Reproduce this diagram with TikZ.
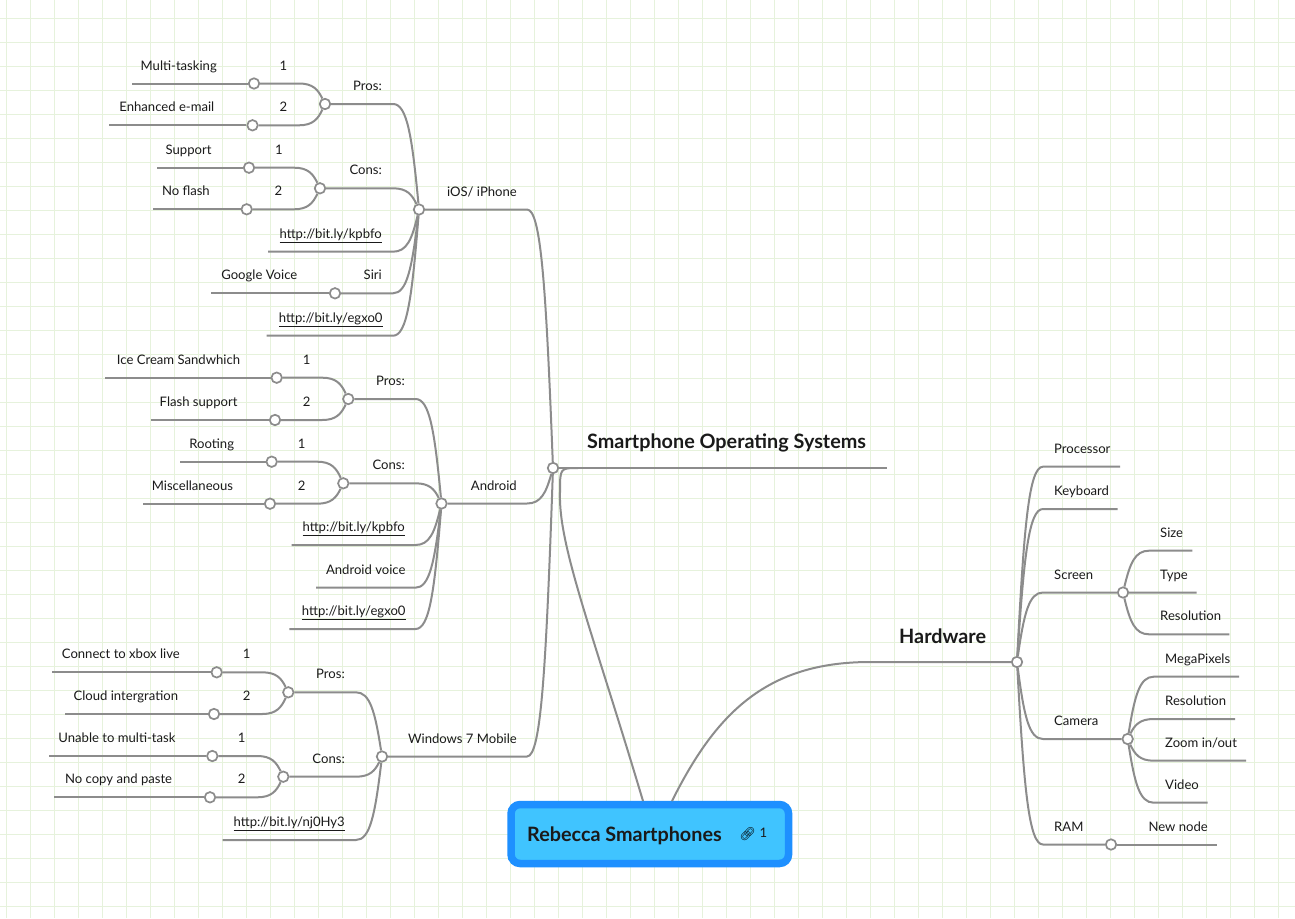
\documentclass[tikz,border=0pt]{standalone}
\usepackage{fontspec}
\setmainfont{Lato}
\newfontfamily\emojifont{Noto Emoji}
\usepackage{tikz}
\usetikzlibrary{calc,positioning}
\definecolor{MapGray}{HTML}{8C8C8C}
\definecolor{MapGrid}{HTML}{E6F2DC}
\definecolor{MapBlue}{HTML}{1E90FF}
\definecolor{MapSky}{HTML}{40C4FF}
\definecolor{MapInk}{HTML}{1A1A1A}
\newcommand\branchL[2]{\draw[link] (#1) .. controls ($(#1)!.7!(#1|-#2)+(-7,0)$) and ($(#1|-#2)+(-12,0)$) .. ($(#1|-#2)+(-26,0)$) -- (#2);}
\newcommand\branchR[2]{\draw[link] (#1) .. controls ($(#1)!.7!(#1|-#2)+(7,0)$) and ($(#1|-#2)+(12,0)$) .. ($(#1|-#2)+(26,0)$) -- (#2);}
\begin{document}
\begin{tikzpicture}[x=1pt,y=-1pt,
  link/.style={draw=MapGray,line width=2pt},
  hub/.style={circle,draw=MapGray,fill=white,line width=1.7pt,minimum size=10.5pt,inner sep=0pt},
  txt/.style={inner sep=0pt,text=MapInk,font=\fontsize{13.1}{15}\selectfont},
  lbl/.style={txt,anchor=base east},
  rlbl/.style={txt,anchor=base west},
  title/.style={inner sep=0pt,text=MapInk,font=\fontsize{19.8}{23}\selectfont\bfseries,anchor=base west},
  gridline/.style={draw=MapGrid,line width=1pt}
]
\useasboundingbox (0,0) rectangle (1295,918);
\fill[white] (0,0) rectangle (1295,918);
\foreach \gx in {6,30,...,1295} \draw[gridline] (\gx,0) -- (\gx,918);
\foreach \gy in {18,42,...,918} \draw[gridline] (0,\gy) -- (1295,\gy);

\node[draw=MapBlue,fill=MapSky,line width=7.5pt,rounded corners=9pt,minimum width=277.5pt,minimum height=59pt,inner sep=0pt] (central) at (649.8,834) {};
\node[title] (ctitle) at (527,841) {Rebecca Smartphones};
\node[inner sep=0pt,font=\emojifont\fontsize{13}{15}\selectfont] (clink) at (747.5,834) {\symbol{"1F517}};
\node[rlbl] (ccount) at (759.5,837.5) {1};
\coordinate (c1) at (643,801);
\coordinate (c2) at (672,801);

\node[hub] (os) at (553,468) {};
\node[title] (ostitle) at (587,448) {Smartphone Operating Systems};
\coordinate (osend) at (887,468);
\coordinate (osjoin) at (578,468);
\draw[link] (os) -- (osend);
\draw[link] (c1) .. controls (592,630) and (558,545) .. (560,492) .. controls (560,468) .. (osjoin);

\node[hub] (hw) at (1017,662) {};
\node[title] (hwtitle) at (899,643) {Hardware};
\coordinate (hwjoin) at (870,662);
\draw[link] (c2) .. controls (715,715) and (765,662) .. (hwjoin) -- (hw);

\node[hub] (ios) at (419,209.5) {};
\node[lbl] (tios) at (517,196) {iOS/ iPhone};
\branchL{os}{ios}
\node[hub] (iosp) at (325,104) {};
\node[lbl] (tiosp) at (382,90.5) {Pros:};
\branchL{ios}{iosp}
\node[hub] (iosp1) at (254,83.5) {};
\node[lbl] (tiosp1) at (287.5,70) {1};
\branchL{iosp}{iosp1}
\coordinate (iosp1e) at (132,83.5);
\node[lbl] (tiosp1e) at (217,70) {Multi-tasking};
\draw[link] (iosp1) -- (iosp1e);
\node[hub] (iosp2) at (252.5,125.3) {};
\node[lbl] (tiosp2) at (287.5,111.8) {2};
\branchL{iosp}{iosp2}
\coordinate (iosp2e) at (109,125.3);
\node[lbl] (tiosp2e) at (214.5,111.8) {Enhanced e-mail};
\draw[link] (iosp2) -- (iosp2e);
\node[hub] (iosc) at (320,188.3) {};
\node[lbl] (tiosc) at (382,174.8) {Cons:};
\branchL{ios}{iosc}
\node[hub] (iosc1) at (249,167.7) {};
\node[lbl] (tiosc1) at (283,154.2) {1};
\branchL{iosc}{iosc1}
\coordinate (iosc1e) at (156.7,167.7);
\node[lbl] (tiosc1e) at (211.7,154.2) {Support};
\draw[link] (iosc1) -- (iosc1e);
\node[hub] (iosc2) at (246.7,209.3) {};
\node[lbl] (tiosc2) at (282.5,195.8) {2};
\branchL{iosc}{iosc2}
\coordinate (iosc2e) at (153.3,209.3);
\node[lbl] (tiosc2e) at (210,195.8) {No flash};
\draw[link] (iosc2) -- (iosc2e);
\coordinate (iosl1) at (268,251.7);
\node[lbl] (tiosl1) at (382,238.2) {\underline{http://bit.ly/kpbfo}};
\branchL{ios}{iosl1}
\node[hub] (siri) at (335,293.3) {};
\node[lbl] (tsiri) at (382,279.8) {Siri};
\branchL{ios}{siri}
\coordinate (sirie) at (210.7,293.3);
\node[lbl] (tsirie) at (297.5,279.8) {Google Voice};
\draw[link] (siri) -- (sirie);
\coordinate (iosl2) at (266.7,335.7);
\node[lbl] (tiosl2) at (382.7,322.2) {\underline{http://bit.ly/egxo0}};
\branchL{ios}{iosl2}

\node[hub] (andr) at (441.5,503.5) {};
\node[lbl] (tandr) at (517,490) {Android};
\branchL{os}{andr}
\node[hub] (anp) at (348.3,399) {};
\node[lbl] (tanp) at (405,385.5) {Pros:};
\branchL{andr}{anp}
\node[hub] (anp1) at (276.7,377.7) {};
\node[lbl] (tanp1) at (310.7,364.2) {1};
\branchL{anp}{anp1}
\coordinate (anp1e) at (105,377.7);
\node[lbl] (tanp1e) at (240.3,364.2) {Ice Cream Sandwhich};
\draw[link] (anp1) -- (anp1e);
\node[hub] (anp2) at (275,420) {};
\node[lbl] (tanp2) at (310.7,406.5) {2};
\branchL{anp}{anp2}
\coordinate (anp2e) at (151,420);
\node[lbl] (tanp2e) at (237.7,406.5) {Flash support};
\draw[link] (anp2) -- (anp2e);
\node[hub] (anc) at (343.3,483.3) {};
\node[lbl] (tanc) at (405,469.8) {Cons:};
\branchL{andr}{anc}
\node[hub] (anc1) at (271.7,461.7) {};
\node[lbl] (tanc1) at (305.7,448.2) {1};
\branchL{anc}{anc1}
\coordinate (anc1e) at (180,461.7);
\node[lbl] (tanc1e) at (234.3,448.2) {Rooting};
\draw[link] (anc1) -- (anc1e);
\node[hub] (anc2) at (270,503.7) {};
\node[lbl] (tanc2) at (305.7,490.2) {2};
\branchL{anc}{anc2}
\coordinate (anc2e) at (143.3,503.7);
\node[lbl] (tanc2e) at (233.3,490.2) {Miscellaneous};
\draw[link] (anc2) -- (anc2e);
\coordinate (anl1) at (291.7,545);
\node[lbl] (tanl1) at (405,531.5) {\underline{http://bit.ly/kpbfo}};
\branchL{andr}{anl1}
\coordinate (anv) at (316,587.7);
\node[lbl] (tanv) at (405.7,574.2) {Android voice};
\branchL{andr}{anv}
\coordinate (anl2) at (289.3,629);
\node[lbl] (tanl2) at (405.7,615.5) {\underline{http://bit.ly/egxo0}};
\branchL{andr}{anl2}

\node[hub] (win) at (382,756.5) {};
\node[lbl] (twin) at (517,743) {Windows 7 Mobile};
\branchL{os}{win}
\node[hub] (wp) at (288.3,692.3) {};
\node[lbl] (twp) at (345,678.8) {Pros:};
\branchL{win}{wp}
\node[hub] (wp1) at (216.7,672.3) {};
\node[lbl] (twp1) at (250.7,658.8) {1};
\branchL{wp}{wp1}
\coordinate (wp1e) at (51.7,672.3);
\node[lbl] (twp1e) at (180,658.8) {Connect to xbox live};
\draw[link] (wp1) -- (wp1e);
\node[hub] (wp2) at (214,714) {};
\node[lbl] (twp2) at (250.7,700.5) {2};
\branchL{wp}{wp2}
\coordinate (wp2e) at (65,714);
\node[lbl] (twp2e) at (178.3,700.5) {Cloud intergration};
\draw[link] (wp2) -- (wp2e);
\node[hub] (wc) at (283.3,776.7) {};
\node[lbl] (twc) at (345,763.2) {Cons:};
\branchL{win}{wc}
\node[hub] (wc1) at (212.3,756) {};
\node[lbl] (twc1) at (245.7,742.5) {1};
\branchL{wc}{wc1}
\coordinate (wc1e) at (49.3,756);
\node[lbl] (twc1e) at (175.7,742.5) {Unable to multi-task};
\draw[link] (wc1) -- (wc1e);
\node[hub] (wc2) at (210,797.3) {};
\node[lbl] (twc2) at (245.7,783.8) {2};
\branchL{wc}{wc2}
\coordinate (wc2e) at (54,797.3);
\node[lbl] (twc2e) at (172.3,783.8) {No copy and paste};
\draw[link] (wc2) -- (wc2e);
\coordinate (wl) at (222.7,840);
\node[lbl] (twl) at (345,826.5) {\underline{http://bit.ly/nj0Hy3}};
\branchL{win}{wl}

\coordinate (hwpr) at (1120,466.7);
\node[rlbl] (thwpr) at (1054,453.2) {Processor};
\branchR{hw}{hwpr}
\coordinate (hwkb) at (1117.7,509);
\node[rlbl] (thwkb) at (1054,495.5) {Keyboard};
\branchR{hw}{hwkb}
\node[hub] (scr) at (1123,592.5) {};
\node[rlbl] (tscr) at (1054,579) {Screen};
\branchR{hw}{scr}
\coordinate (scrs) at (1192.3,550.7);
\node[rlbl] (tscrs) at (1160,537.2) {Size};
\branchR{scr}{scrs}
\coordinate (scrt) at (1196.7,592.5);
\node[rlbl] (tscrt) at (1160,579) {Type};
\branchR{scr}{scrt}
\coordinate (scrr) at (1229.3,634.3);
\node[rlbl] (tscrr) at (1160,620.8) {Resolution};
\branchR{scr}{scrr}
\node[hub] (cam) at (1127.7,739) {};
\node[rlbl] (tcam) at (1054,725.5) {Camera};
\branchR{hw}{cam}
\coordinate (camm) at (1239,676.7);
\node[rlbl] (tcamm) at (1165,663.2) {MegaPixels};
\branchR{cam}{camm}
\coordinate (camr) at (1235,719);
\node[rlbl] (tcamr) at (1165,705.5) {Resolution};
\branchR{cam}{camr}
\coordinate (camz) at (1246,760.7);
\node[rlbl] (tcamz) at (1165,747.2) {Zoom in/out};
\branchR{cam}{camz}
\coordinate (camv) at (1207.7,802.7);
\node[rlbl] (tcamv) at (1165,789.2) {Video};
\branchR{cam}{camv}
\node[hub] (ram) at (1111,844.5) {};
\node[rlbl] (tram) at (1054,831) {RAM};
\branchR{hw}{ram}
\coordinate (rame) at (1216.7,844.5);
\node[rlbl] (trame) at (1148.3,831) {New node};
\draw[link] (ram) -- (rame);
\end{tikzpicture}
\end{document}
